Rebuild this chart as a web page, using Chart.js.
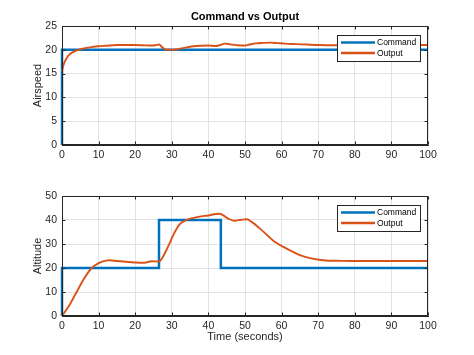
<!DOCTYPE html>
<html><head><meta charset="utf-8">
<script src="https://cdn.jsdelivr.net/npm/chart.js@4"></script>
<style>
html,body{margin:0;padding:0;background:#fff;width:474px;height:355px;overflow:hidden}
canvas{position:absolute;left:0}
#c1{top:0}
#c2{top:175px}
</style></head>
<body>
<canvas id="c1" width="474" height="175"></canvas>
<canvas id="c2" width="474" height="180"></canvas>
<script>
// ---- data ----
const seriesNames = ['Command', 'Output'];
const chartTitle = 'Command vs Output';
const airspeedLabel = 'Airspeed';
const altitudeLabel = 'Altitude';
const timeLabel = 'Time (seconds)';

const xTicks = [0, 10, 20, 30, 40, 50, 60, 70, 80, 90, 100];
const airTicks = [0, 5, 10, 15, 20, 25];
const altTicks = [0, 10, 20, 30, 40, 50];

const airCmdTime = [0, 0, 100];
const airCmdValue = [0, 20, 20];
const airOutTime = [0, 0.3, 0.7, 1.3, 2, 3, 4, 5, 6, 8, 10, 12, 15, 18, 20, 22, 24, 25.5, 26.5, 27.3, 28, 29, 30, 31, 32, 34, 36, 38, 40, 42, 43, 44.5, 46, 48, 50, 51, 53, 55, 57, 59, 61, 64, 67, 70, 75, 80, 85, 90, 95, 100];
const airOutValue = [15.5, 16.5, 17.4, 18.3, 19.0, 19.5, 19.9, 20.1, 20.3, 20.55, 20.75, 20.85, 21.0, 21.0, 21.0, 20.95, 20.9, 20.95, 21.1, 20.6, 20.15, 20.0, 20.0, 20.05, 20.2, 20.5, 20.75, 20.85, 20.9, 20.8, 20.95, 21.3, 21.15, 20.95, 20.9, 21.05, 21.35, 21.45, 21.5, 21.4, 21.3, 21.2, 21.1, 21.0, 20.95, 20.95, 21.0, 21.0, 21.0, 21.0];

const altCmdTime = [0, 0, 26.5, 26.5, 43.4, 43.4, 100];
const altCmdValue = [0, 20, 20, 40, 40, 20, 20];
const altOutTime = [0, 2, 4, 6, 8, 10, 12, 13, 15, 18, 20, 22.5, 24.5, 26.5, 27.5, 29, 30.5, 32, 34, 36, 38, 40, 42, 43, 44, 45.5, 47, 49, 50.5, 52, 54, 56, 58, 60.5, 63, 65, 67.5, 70, 72, 75, 80, 90, 100];
const altOutValue = [0, 4.5, 10, 15.5, 19.8, 22, 23.1, 23.2, 22.9, 22.5, 22.3, 22.2, 22.8, 22.7, 24.5, 29, 34, 38, 40, 40.9, 41.5, 41.9, 42.5, 42.6, 42, 40.5, 39.7, 40.1, 40.3, 39, 36.5, 33.8, 31, 28.8, 26.8, 25.4, 24.2, 23.5, 23.1, 23.0, 22.9, 22.9, 22.9];

// ---- styling ----
const FONT = '"Liberation Sans", Arial, Helvetica, sans-serif';
const AX = '#262626';
const BLUE = '#0072BD';
const ORANGE = '#D95319';

const zip = (xs, ys) => xs.map((x, i) => ({x: x, y: ys[i]}));

const matlabAxes = {
  id: 'matlabAxes',
  afterDraw(chart) {
    const {ctx, chartArea: a, scales} = chart;
    const L = Math.round(a.left) + 0.5, R = Math.round(a.right) - 0.5;
    const T = Math.round(a.top) + 0.5, B = Math.round(a.bottom) - 0.5;
    ctx.save();
    ctx.strokeStyle = AX;
    ctx.lineWidth = 1;
    ctx.beginPath();
    scales.x.ticks.forEach(t => {
      const x = Math.round(scales.x.getPixelForValue(t.value)) + 0.5;
      ctx.moveTo(x, B); ctx.lineTo(x, B - 3);
      ctx.moveTo(x, T); ctx.lineTo(x, T + 3);
    });
    scales.y.ticks.forEach(t => {
      const y = Math.round(scales.y.getPixelForValue(t.value)) + 0.5;
      ctx.moveTo(L, y); ctx.lineTo(L + 3, y);
      ctx.moveTo(R, y); ctx.lineTo(R - 3, y);
    });
    ctx.stroke();
    ctx.strokeRect(L, T, R - L, B - T);

    // legend box
    const lw = 83, lh = 26;
    const lx = Math.round(a.right) - 8 - lw;
    const ly = Math.round(a.top) + 9;
    ctx.fillStyle = '#fff';
    ctx.fillRect(lx, ly, lw, lh);
    ctx.strokeStyle = AX;
    ctx.lineWidth = 1;
    ctx.strokeRect(lx + 0.5, ly + 0.5, lw, lh);
    chart.data.datasets.forEach((ds, i) => {
      const y = ly + 7.5 + i * 10.5;
      ctx.strokeStyle = ds.borderColor;
      ctx.lineWidth = 2.5;
      ctx.beginPath();
      ctx.moveTo(lx + 4, y); ctx.lineTo(lx + 38, y);
      ctx.stroke();
      ctx.fillStyle = '#000';
      ctx.font = '8.5px ' + FONT;
      ctx.textBaseline = 'middle';
      ctx.textAlign = 'left';
      ctx.fillText(ds.label, lx + 40, y + 0.5);
    });
    ctx.restore();
  }
};

function makeChart(id, cmdT, cmdV, outT, outV, yTicks, yLabel, opts) {
  const yMin = yTicks[0], yMax = yTicks[yTicks.length - 1];
  return new Chart(document.getElementById(id), {
    type: 'line',
    data: {
      datasets: [
        {label: seriesNames[0], data: zip(cmdT, cmdV), borderColor: BLUE, backgroundColor: BLUE,
         borderWidth: 2.5, pointRadius: 0, tension: 0, clip: false, order: 1},
        {label: seriesNames[1], data: zip(outT, outV), borderColor: ORANGE, backgroundColor: ORANGE,
         borderWidth: 1.9, pointRadius: 0, cubicInterpolationMode: 'monotone', clip: false, order: 0}
      ]
    },
    options: {
      responsive: false,
      animation: false,
      events: [],
      layout: {padding: opts.padding},
      plugins: {
        legend: {display: false},
        tooltip: {enabled: false},
        title: opts.title ? {
          display: true, text: opts.title, fullSize: false, color: '#000',
          font: {size: 11, weight: 'bold', family: FONT},
          padding: {top: 10, bottom: 2.8}
        } : {display: false}
      },
      scales: {
        x: {
          type: 'linear', min: 0, max: 100,
          afterBuildTicks: s => { s.ticks = xTicks.map(v => ({value: v})); },
          grid: {color: '#e3e3e3', drawTicks: false},
          border: {color: AX},
          ticks: {padding: 4, color: AX, maxRotation: 0, autoSkip: false, font: {size: 10.5, family: FONT}},
          title: opts.xTitle ? {display: true, text: opts.xTitle, color: AX, padding: 0,
                                font: {size: 11, family: FONT}} : {display: false},
          afterFit: s => { s.height = opts.xHeight; }
        },
        y: {
          type: 'linear', min: yMin, max: yMax,
          afterBuildTicks: s => { s.ticks = yTicks.map(v => ({value: v})); },
          grid: {color: '#e3e3e3', drawTicks: false},
          border: {color: AX},
          ticks: {padding: 5, color: AX, font: {size: 10.5, family: FONT}},
          title: {display: true, text: yLabel, color: AX, padding: 0, font: {size: 11, family: FONT}},
          afterFit: s => { s.width = 31; }
        }
      }
    },
    plugins: [matlabAxes]
  });
}

makeChart('c1', airCmdTime, airCmdValue, airOutTime, airOutValue, airTicks, airspeedLabel,
  {padding: {left: 31, right: 46, top: 0, bottom: 0}, title: chartTitle, xHeight: 30});
makeChart('c2', altCmdTime, altCmdValue, altOutTime, altOutValue, altTicks, altitudeLabel,
  {padding: {left: 31, right: 46, top: 21, bottom: 11}, xTitle: timeLabel, xHeight: 28});
</script>
</body></html>
